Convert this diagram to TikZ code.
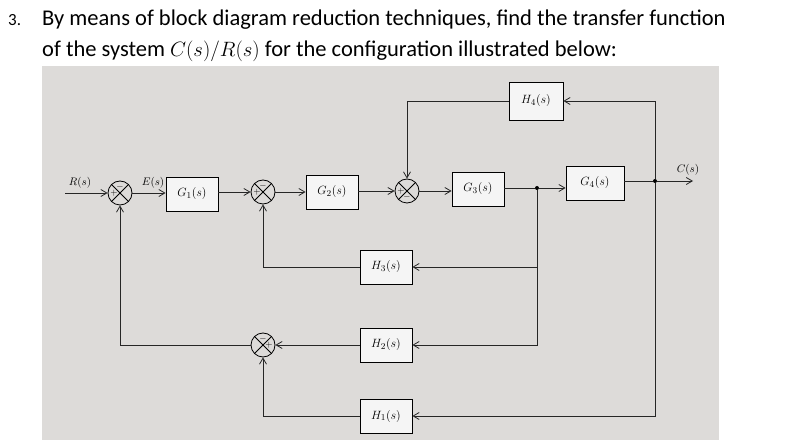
\documentclass[tikz,border=0pt]{standalone}
\usepackage{fontspec}
\setmainfont{Carlito}
\usetikzlibrary{arrows.meta}
\begin{document}
\begin{tikzpicture}[x=1pt,y=-1pt,
  blk/.style={draw,thick,fill=black!4,minimum width=52,minimum height=34,inner sep=0,font=\fontsize{13}{15}\selectfont},
  sumj/.style={draw,thick,circle,minimum size=24,inner sep=0,
    path picture={\draw[thick] (path picture bounding box.north west)--(path picture bounding box.south east)
      (path picture bounding box.north east)--(path picture bounding box.south west);}},
  sg/.style={font=\fontsize{9}{10}\selectfont,inner sep=0},
  dot/.style={circle,fill,inner sep=0,minimum size=4},
  ln/.style={thick,draw=black!85},
  ar/.style={ln,-{Straight Barb[length=6,width=7]}},
  lab/.style={font=\fontsize{11}{13}\selectfont,inner sep=1}]
\useasboundingbox (0,0) rectangle (790,446);
\fill[black!13!white!97!brown] (42,66) rectangle (719,440);
\node[anchor=base west,font=\fontsize{17}{20}\selectfont,inner sep=0] (n3) at (8,26) {3.};
\node[anchor=base west,font=\fontsize{22.5}{26}\selectfont,inner sep=0] (t1) at (42,26) {By means of block diagram reduction techniques, find the transfer function};
\node[anchor=base west,font=\fontsize{22.5}{26}\selectfont,inner sep=0] (t2) at (42,57) {of the system $C(s)/R(s)$ for the configuration illustrated below:};
% nodes
\node[sumj] (s1) at (120,193) {};
\node[sumj] (s2) at (263,192) {};
\node[sumj] (s3) at (407,191) {};
\node[sumj] (s4) at (263,345) {};
\node[blk] (g1) at (192,194) {$G_1(s)$};
\node[blk] (g2) at (332,192) {$G_2(s)$};
\node[blk] (g3) at (478,189) {$G_3(s)$};
\node[blk,minimum width=58] (g4) at (595,183) {$G_4(s)$};
\node[blk,minimum width=54,minimum height=38] (h4) at (536,101) {$H_4(s)$};
\node[blk] (h3) at (386,267) {$H_3(s)$};
\node[blk] (h2) at (386,345) {$H_2(s)$};
\node[blk] (h1) at (386,416) {$H_1(s)$};
\coordinate (in) at (65,193);
\node[dot] (j1) at (537,188) {};
\node[dot] (j2) at (655,181) {};
\coordinate (out) at (693,181);
% labels
\node[lab] (lr) at (80,183) {$R(s)$};
\node[lab] (le) at (153,183) {$E(s)$};
\node[lab] (lc) at (688,170) {$C(s)$};
% signs
\node[sg] at ([xshift=-6]s1.center) {$+$}; \node[sg] at ([yshift=6]s1.center) {$-$};
\node[sg] at ([xshift=-6]s2.center) {$+$}; \node[sg] at ([yshift=6]s2.center) {$-$};
\node[sg] at ([xshift=-6]s3.center) {$+$}; \node[sg] at ([yshift=-6]s3.center) {$-$};
\node[sg] at ([xshift=6]s4.center) {$+$}; \node[sg] at ([yshift=6]s4.center) {$-$};
% forward path
\draw[ar] (in) -- (s1);
\draw[ar] (s1) -- (g1.west |- s1);
\draw[ar] (g1.east |- s2) -- (s2);
\draw[ar] (s2) -- (g2.west |- s2);
\draw[ar] (g2.east |- s3) -- (s3);
\draw[ar] (s3) -- (g3.west |- s3);
\draw[ln] (g3.east |- j1) -- (j1);
\draw[ar] (j1) -- (g4.west |- j1);
\draw[ln] (g4.east |- j2) -- (j2);
\draw[ar] (j2) -- (out);
% H4 loop
\draw[ar] (j2) |- (h4.east);
\draw[ar] (h4.west) -| (s3.north);
% H3, H2 from j1
\draw[ar] (j1) |- (h3.east);
\draw[ar] (j1) |- (h2.east);
\draw[ar] (h3.west) -| (s2.south);
\draw[ar] (h2.west) -- (s4.east);
% H1 from output
\draw[ar] (j2) |- (h1.east);
\draw[ar] (h1.west) -| (s4.south);
\draw[ar] (s4.west) -| (s1.south);
\end{tikzpicture}
\end{document}
